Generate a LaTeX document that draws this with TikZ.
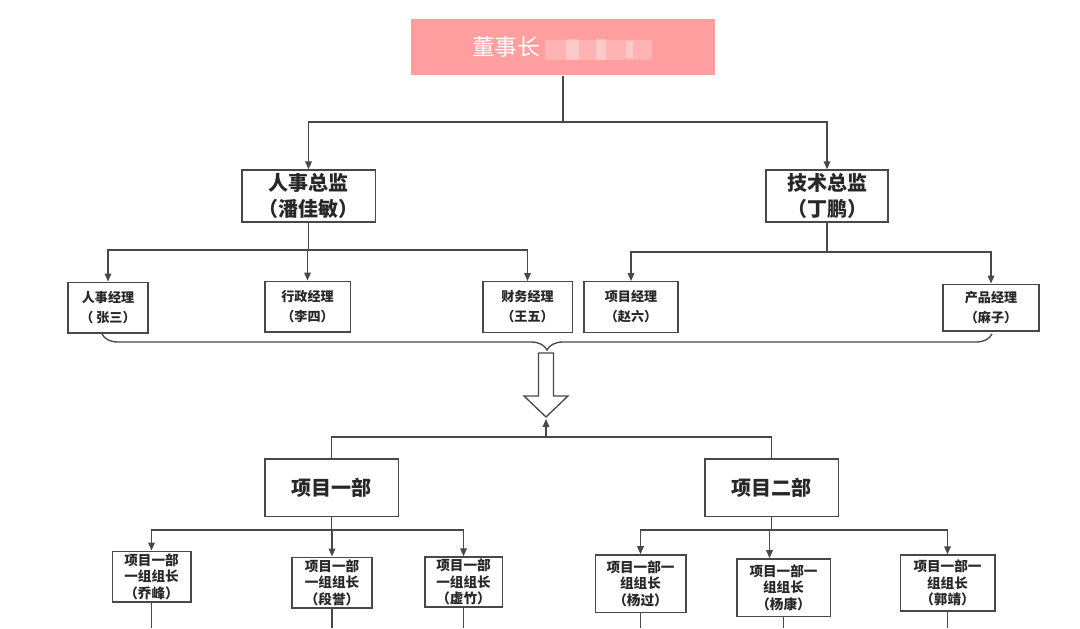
\documentclass[tikz,border=0pt]{standalone}
\usepackage{fontspec}
\newfontfamily\cjk{Noto Sans CJK SC}
\usetikzlibrary{arrows.meta,decorations.pathreplacing}
\definecolor{linegray}{RGB}{72,72,72}
\definecolor{boxpink}{RGB}{255,158,158}
\definecolor{txtgray}{RGB}{40,40,40}
\tikzset{
  conn/.style={draw=linegray,line width=1pt},
  arr/.style={conn,-{Triangle[length=6pt,width=5pt]}},
  box/.style={draw=linegray,line width=1pt,fill=white,align=center,inner sep=0pt,text=txtgray},
  chairbox/.style={box,draw=none,fill=boxpink,text=white,font=\cjk\fontsize{17}{20}\selectfont},
  lvtwo/.style={box,minimum height=39pt,font=\cjk\bfseries\fontsize{15}{20}\selectfont},
  lvthree/.style={box,minimum height=38pt,font=\cjk\bfseries\fontsize{9.8}{15}\selectfont},
  lvfour/.style={box,minimum width=100pt,minimum height=43pt,font=\cjk\bfseries\fontsize{15}{18}\selectfont},
  lvfive/.style={box,font=\cjk\bfseries\fontsize{10.2}{12.5}\selectfont}
}
\begin{document}
\begin{tikzpicture}[x=0.75pt,y=0.75pt,yscale=-1]
\useasboundingbox (0,0) rectangle (1080,628);

%Chairman
\draw (563,47) node [chairbox,minimum width=228pt,minimum height=42pt] (chair) {};
\draw (506,47) node [chairbox,fill=none] (chairtxt) {董事长};
%blurred name
\fill [white,opacity=0.22] (545,40) rectangle (652,60) ;
\fill [white,opacity=0.3] (566,39) rectangle (579,60) ;
\fill [white,opacity=0.3] (596,39) rectangle (606,60) ;
\fill [white,opacity=0.3] (626,41) rectangle (633,58) ;

%Directors
\draw (308.5,196) node [lvtwo,minimum width=100pt] (hrdir) {人事总监\\（潘佳敏）};
\draw (827,196) node [lvtwo,minimum width=91.5pt] (techdir) {技术总监\\（丁鹏）};

\coordinate (busA) at (chair.south |- 0,122);
\draw [conn] (chair.south) -- (busA) ;
\draw [arr] (busA) -| (hrdir.north) ;
\draw [arr] (busA) -| (techdir.north) ;

%Managers
\draw (108,307.5) node [lvthree,minimum width=60pt] (hrmgr) {人事经理\\（ 张三）};
\draw (307.5,306.5) node [lvthree,minimum width=64pt] (admmgr) {行政经理\\（李四）};
\draw (527.5,307) node [lvthree,minimum width=67pt] (finmgr) {财务经理\\（王五）};
\draw (631,307) node [lvthree,minimum width=70.5pt] (projmgr) {项目经理\\（赵六）};
\draw (991,307.5) node [lvthree,minimum width=72pt,minimum height=35pt] (prodmgr) {产品经理\\（麻子）};

\coordinate (busB) at (hrdir.south |- 0,250);
\draw [conn] (hrdir.south) -- (busB) ;
\draw [arr] (busB) -| (hrmgr.north) ;
\draw [arr] (busB) -| (admmgr.north) ;
\draw [arr] (busB) -| (finmgr.north) ;

\coordinate (busC) at (techdir.south |- 0,252);
\draw [conn] (techdir.south) -- (busC) ;
\draw [arr] (busC) -| (projmgr.north) ;
\draw [arr] (busC) -| (prodmgr.north) ;

%Brace and big arrow
\draw [conn,decorate,decoration={brace,mirror,amplitude=12pt}] (102,334) -- (992,334) ;
\draw [conn,fill=white] (538.5,353) -- (553.5,353) -- (553.5,396) -- (568,396) -- (546,417) -- (524,396) -- (538.5,396) -- cycle ;
\coordinate (bigtip) at (546,419);

%Departments
\draw (331.5,487.5) node [lvfour] (dept1) {项目一部};
\draw (771.5,487.5) node [lvfour] (dept2) {项目二部};

\coordinate (busD) at (546,437);
\draw [arr] (busD) -- (bigtip) ;
\draw [conn] (busD) -| (dept1.north) ;
\draw [conn] (busD) -| (dept2.north) ;

%Group leaders
\draw (151.5,576.5) node [lvfive,minimum width=59pt,minimum height=38pt] (qiaofeng) {项目一部\\一组组长\\（乔峰）};
\draw (332,582.5) node [lvfive,minimum width=60pt,minimum height=38pt] (duanyu) {项目一部\\一组组长\\（段誉）};
\draw (463.5,582) node [lvfive,minimum width=58pt,minimum height=37.5pt] (xuzhu) {项目一部\\一组组长\\（虚竹）};
\draw (640.5,583.5) node [lvfive,minimum width=68pt,minimum height=43pt] (yangguo) {项目一部一\\组组长\\（杨过）};
\draw (783.5,587.5) node [lvfive,minimum width=70pt,minimum height=43pt] (yangkang) {项目一部一\\组组长\\（杨康）};
\draw (947.5,583) node [lvfive,minimum width=71pt,minimum height=42pt] (guojing) {项目一部一\\组组长\\（郭靖）};

\coordinate (busE) at (dept1.south |- 0,530);
\draw [conn] (dept1.south) -- (busE) ;
\draw [arr] (busE) -| (qiaofeng.north) ;
\draw [arr] (busE) -| (duanyu.north) ;
\draw [arr] (busE) -| (xuzhu.north) ;

\coordinate (busF) at (dept2.south |- 0,530);
\draw [conn] (dept2.south) -- (busF) ;
\draw [arr] (busF) -| (yangguo.north) ;
\draw [arr] (busF) -| ([xshift=-10.5pt]yangkang.north) ;
\draw [arr] (busF) -| (guojing.north) ;

%Lines leaving the page
\draw [conn] (qiaofeng.south) -- (qiaofeng.south |- 0,628) ;
\draw [conn] (duanyu.south) -- (duanyu.south |- 0,628) ;
\draw [conn] (xuzhu.south) -- (xuzhu.south |- 0,628) ;
\draw [conn] (yangguo.south) -- (yangguo.south |- 0,628) ;
\draw [conn] (yangkang.south) -- (yangkang.south |- 0,628) ;
\draw [conn] (guojing.south) -- (guojing.south |- 0,628) ;

\end{tikzpicture}
\end{document}
